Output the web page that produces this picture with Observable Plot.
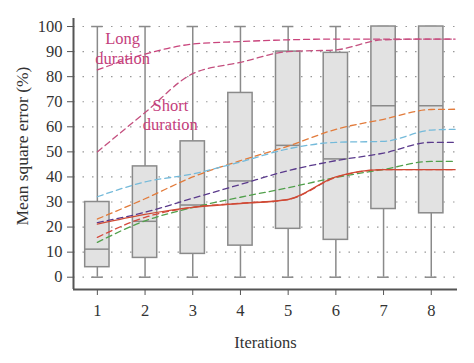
<!DOCTYPE html>
<html><head><meta charset="utf-8">
<script src="https://cdn.jsdelivr.net/npm/d3@7"></script>
<script src="https://cdn.jsdelivr.net/npm/@observablehq/plot@0.6"></script>
<style>body{margin:0;background:#fff}</style>
</head><body><div id="chart"></div>
<script>
// Box plot data per iteration
const iterations = [1, 2, 3, 4, 5, 6, 7, 8];
const whiskerLow = [0, 0, 0, 0, 0, 0, 0, 0];
const whiskerHigh = [100, 100, 100, 100, 100, 100, 100, 100];
const q1 = [4, 7.7, 9.3, 12.6, 19.3, 14.9, 27.2, 25.5];
const median = [11.2, 22.3, 28.8, 38.4, 52.6, 47.2, 68.4, 68.4];
const q3 = [30, 44.2, 54.2, 73.5, 90, 89.5, 100, 100];

// Line series (last point is the flat run-out past iteration 8)
const lineX = [1, 2, 3, 4, 5, 6, 7, 8, 8.5];
const longDuration = [82.7, 89, 93, 94, 94.7, 95, 95, 95, 95];
const shortDuration = [50, 65.7, 81.2, 85.7, 90, 90.7, 94.7, 95, 95];
const orangeSeries = [23.2, 31.3, 40, 46.5, 52.3, 59, 63, 66.9, 67];
const blueSeries = [32.1, 38, 41.2, 46, 51.2, 53.8, 54.2, 58.7, 59];
const purpleSeries = [21.8, 25.9, 31.5, 37, 42.5, 46.5, 49.5, 53.8, 53.8];
const greenSeries = [13.9, 22.5, 27.8, 31.9, 35.7, 39.8, 43, 46.2, 46.2];
const redDashedSeries = [15.9, 23.9, 27.9, 29.5, 31, 39.8, 42.9, 42.9, 42.9];
const redSolidSeries = [21.2, 25.1, 27.9, 29.4, 31, 40, 42.9, 42.9, 42.9];

const yTicks = [0, 10, 20, 30, 40, 50, 60, 70, 80, 90, 100];
const xDomain = [0.5, 8.55];
const yDomain = [-4.9, 103.2];

const annotations = [
  {text: "Long\nduration", x: 1.53, y: 91.5},
  {text: "Short\nduration", x: 2.53, y: 65}
];

const boxes = iterations.map((it, i) => ({
  it, lo: whiskerLow[i], hi: whiskerHigh[i], q1: q1[i], med: median[i], q3: q3[i]
}));

const series = [
  {name: "long", values: longDuration, color: "#c9447c", dash: "6,4"},
  {name: "short", values: shortDuration, color: "#c4507f", dash: "6,4"},
  {name: "orange", values: orangeSeries, color: "#e27b3b", dash: "6,4"},
  {name: "blue", values: blueSeries, color: "#74bada", dash: "6,4"},
  {name: "purple", values: purpleSeries, color: "#5a3a8c", dash: "6,4"},
  {name: "green", values: greenSeries, color: "#52a04c", dash: "6,4"},
  {name: "redDashed", values: redDashedSeries, color: "#d6493d", dash: "6,4"},
  {name: "redSolid", values: redSolidSeries, color: "#cf4a35", dash: null}
];

const lineMarks = series.map(s =>
  Plot.line(lineX.map((x, i) => ({x, y: s.values[i]})), {
    x: "x", y: "y", stroke: s.color, strokeWidth: 1.3,
    strokeDasharray: s.dash, curve: "monotone-x"
  })
);

const font = "'Liberation Serif', 'Times New Roman', serif";

const plot = Plot.plot({
  width: 474,
  height: 363,
  marginLeft: 73,
  marginRight: 17,
  marginTop: 18,
  marginBottom: 74,
  style: {fontFamily: font, fontSize: "16px", color: "#333", background: "#fff"},
  x: {domain: xDomain, label: null},
  y: {domain: yDomain, label: null},
  marks: [
    Plot.gridY(yTicks, {stroke: "#999", strokeOpacity: 1, strokeDasharray: "1.5,8", strokeWidth: 1.2}),
    Plot.ruleX(boxes, {x: "it", y1: "lo", y2: "q1", stroke: "#8a8a8a", strokeWidth: 1.5}),
    Plot.ruleX(boxes, {x: "it", y1: "q3", y2: "hi", stroke: "#8a8a8a", strokeWidth: 1.5}),
    Plot.ruleY(boxes, {y: "lo", x1: d => d.it - 0.12, x2: d => d.it + 0.12, stroke: "#8a8a8a", strokeWidth: 1.5}),
    Plot.ruleY(boxes, {y: "hi", x1: d => d.it - 0.12, x2: d => d.it + 0.12, stroke: "#8a8a8a", strokeWidth: 1.5}),
    Plot.rect(boxes, {x1: d => d.it - 0.255, x2: d => d.it + 0.255, y1: "q1", y2: "q3", fill: "#e2e2e2", stroke: "#8a8a8a", strokeWidth: 1.5}),
    Plot.ruleY(boxes, {y: "med", x1: d => d.it - 0.255, x2: d => d.it + 0.255, stroke: "#8a8a8a", strokeWidth: 1.5}),
    ...lineMarks,
    Plot.text(annotations, {x: "x", y: "y", text: "text", fill: "#c4407c", fontSize: 16.5, lineHeight: 1.2, fontFamily: font}),
    Plot.ruleY([yDomain[0]], {stroke: "#555", strokeWidth: 2}),
    Plot.ruleX([xDomain[0]], {stroke: "#555", strokeWidth: 2}),
    Plot.axisX(iterations, {ticks: iterations, tickSize: 6, tickPadding: 9, stroke: "#555", label: null, fontSize: 16.5, tickFormat: d => String(d)}),
    Plot.axisY(yTicks, {ticks: yTicks, tickSize: 6, tickPadding: 5, stroke: "#555", label: null, fontSize: 16.5}),
    Plot.text(["Iterations"], {frameAnchor: "bottom", dy: 53, lineAnchor: "middle", fontSize: 16.5, fill: "#333"}),
    Plot.text(["Mean square error (%)"], {frameAnchor: "left", dx: -51, dy: -8, rotate: -90, textAnchor: "middle", lineAnchor: "middle", fontSize: 17.5, fill: "#333"})
  ]
});
document.getElementById("chart").appendChild(plot);
</script>
</body></html>
